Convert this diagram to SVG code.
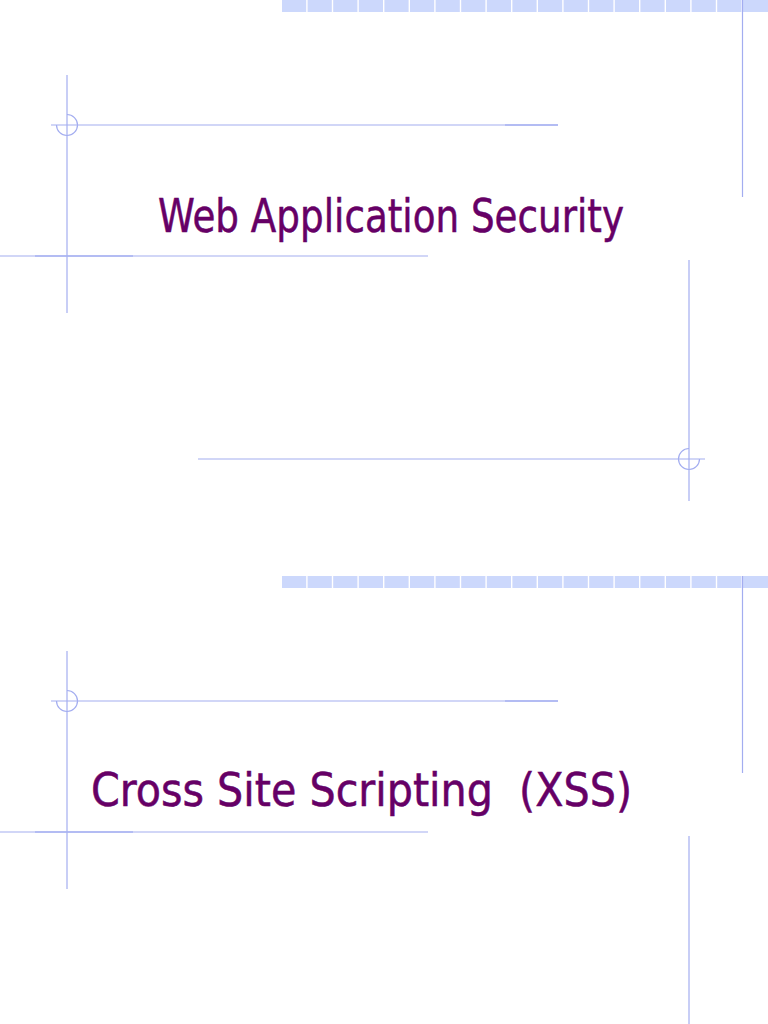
<svg xmlns="http://www.w3.org/2000/svg" xmlns:xlink="http://www.w3.org/1999/xlink" width="768" height="1024" viewBox="0 0 768 1024">
  <style>
    .cell { fill: #ccd8fc; }
    .ln { stroke: #a3adf0; stroke-width: 1.2; fill: none; }
    .lnd { stroke: #a9b3f2; stroke-width: 1.5; fill: none; }
    .title { font-family: "DejaVu Sans Condensed", "DejaVu Sans", Verdana, sans-serif; font-size: 46px; fill: #660066; stroke: #660066; stroke-width: 0.5; }
  </style>
  <defs>
    <g id="bar">
      <rect class="cell" x="282" y="0" width="24.2" height="12"/>
      <rect class="cell" x="307.6" y="0" width="24.2" height="12"/>
      <rect class="cell" x="333.2" y="0" width="24.2" height="12"/>
      <rect class="cell" x="358.8" y="0" width="24.2" height="12"/>
      <rect class="cell" x="384.4" y="0" width="24.2" height="12"/>
      <rect class="cell" x="410" y="0" width="24.2" height="12"/>
      <rect class="cell" x="435.6" y="0" width="24.2" height="12"/>
      <rect class="cell" x="461.2" y="0" width="24.2" height="12"/>
      <rect class="cell" x="486.8" y="0" width="24.2" height="12"/>
      <rect class="cell" x="512.4" y="0" width="24.2" height="12"/>
      <rect class="cell" x="538" y="0" width="24.2" height="12"/>
      <rect class="cell" x="563.6" y="0" width="24.2" height="12"/>
      <rect class="cell" x="589.2" y="0" width="24.2" height="12"/>
      <rect class="cell" x="614.8" y="0" width="24.2" height="12"/>
      <rect class="cell" x="640.4" y="0" width="24.2" height="12"/>
      <rect class="cell" x="666" y="0" width="24.2" height="12"/>
      <rect class="cell" x="691.6" y="0" width="24.2" height="12"/>
      <rect class="cell" x="717.2" y="0" width="24.2" height="12"/>
      <rect class="cell" x="742.8" y="0" width="25.2" height="12"/>
    </g>
    <g id="deco">
      <line class="ln" x1="742.5" y1="0" x2="742.5" y2="197"/>
      <line class="ln" x1="67" y1="75" x2="67" y2="313"/>
      <line class="ln" x1="51" y1="125" x2="558" y2="125"/>
      <line class="lnd" x1="505" y1="125" x2="558" y2="125"/>
      <path class="ln" d="M67,114.5 A10.5,10.5 0 1,1 56.5,125"/>
      <line class="ln" x1="0" y1="256" x2="428" y2="256"/>
      <line class="lnd" x1="35" y1="256" x2="133" y2="256"/>
      <line class="ln" x1="689" y1="260" x2="689" y2="501"/>
      <line class="ln" x1="198" y1="459" x2="705" y2="459"/>
      <path class="ln" d="M699.5,459 A10.5,10.5 0 1,1 689,448.5"/>
    </g>
  </defs>
  <rect x="0" y="0" width="768" height="1024" fill="#ffffff"/>
  <g id="slide1">
    <use xlink:href="#bar"/>
    <use xlink:href="#deco"/>
    <text id="title1" class="title" x="158" y="232" textLength="466" lengthAdjust="spacingAndGlyphs">Web Application Security</text>
  </g>
  <g id="slide2" transform="translate(0,576)">
    <use xlink:href="#bar"/>
    <use xlink:href="#deco"/>
    <text id="title2" class="title" x="91" y="230" textLength="541" lengthAdjust="spacingAndGlyphs" xml:space="preserve">Cross Site Scripting  (XSS)</text>
  </g>
</svg>
